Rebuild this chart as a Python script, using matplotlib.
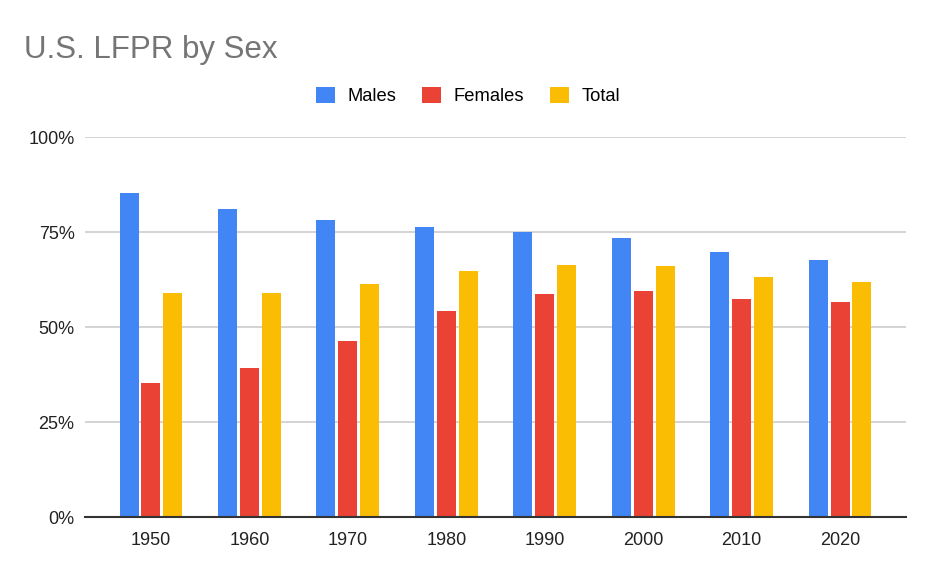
import numpy as np
import matplotlib
matplotlib.use('Agg')
import matplotlib.pyplot as plt
from matplotlib.ticker import FuncFormatter

plt.rcParams['font.family'] = ['Liberation Sans', 'DejaVu Sans']

years = ['1950', '1960', '1970', '1980', '1990', '2000', '2010', '2020']
males = [85.3, 81.1, 78.3, 76.3, 75.1, 73.4, 69.7, 67.7]
females = [35.3, 39.4, 46.3, 54.2, 58.7, 59.6, 57.4, 56.7]
total = [58.9, 58.9, 61.5, 64.7, 66.4, 66.1, 63.2, 61.9]

series = [('Males', males, '#4285F4'),
          ('Females', females, '#EA4335'),
          ('Total', total, '#FBBC04')]

fig = plt.figure(figsize=(9.36, 5.78), dpi=100)
ax = fig.add_axes([85 / 936, 1 - 517.3 / 578, 821 / 936, 380 / 578])

x = np.arange(len(years))
w = 0.193
offs = [-0.222, 0, 0.222]
for (name, vals, col), o in zip(series, offs):
    ax.bar(x + o, vals, w, color=col, label=name, zorder=3)

ax.set_xlim(-0.67, len(years) - 1 + 0.67)
ax.set_ylim(0, 100)
ax.set_yticks([0, 25, 50, 75, 100])
ax.yaxis.set_major_formatter(FuncFormatter(lambda v, p: '%d%%' % v))
ax.set_xticks(x)
ax.set_xticklabels(years)
ax.grid(axis='y', color='#cccccc', lw=1.2, zorder=0)
for s in ['top', 'right', 'left']:
    ax.spines[s].set_visible(False)
ax.spines['bottom'].set_color('#333333')
ax.spines['bottom'].set_linewidth(1.5)
ax.spines['bottom'].set_zorder(4)
ax.tick_params(axis='both', length=0, labelsize=13, colors='#222222')
ax.tick_params(axis='y', pad=7.5)
ax.tick_params(axis='x', pad=10.5)

fig.text(23.5 / 936, 1 - 58.3 / 578, 'U.S. LFPR by Sex', fontsize=22.5,
         color='#757575', ha='left', va='baseline')

fig.legend(loc='center', bbox_to_anchor=(0.5, 1 - 96.3 / 578),
           ncol=3, frameon=False, fontsize=13.2, handlelength=1.04,
           handleheight=0.98, handletextpad=0.71, columnspacing=1.37)

plt.savefig('out.png', dpi=100)
